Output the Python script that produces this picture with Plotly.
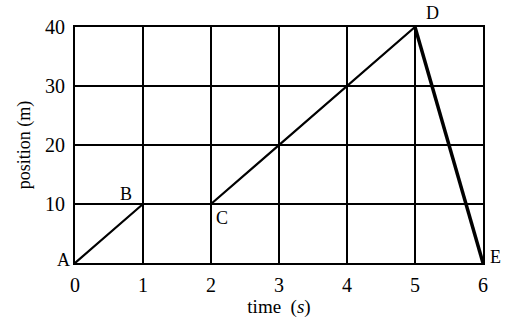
import plotly.graph_objects as go

# Data
time_s = [0, 1, 2, 5, 6]
position_m = [0, 10, 10, 40, 0]
point_labels = ["A", "B", "C", "D", "E"]
x_ticks = [0, 1, 2, 3, 4, 5, 6]
y_ticks = [0, 10, 20, 30, 40]
y_tick_text = ["", "10", "20", "30", "40"]

FONT = "Liberation Serif, Times New Roman, serif"

fig = go.Figure()
# A -> B -> C -> D
fig.add_trace(go.Scatter(x=time_s[:4], y=position_m[:4], mode="lines",
                         line=dict(color="black", width=2.2), hoverinfo="skip"))
# D -> E (steeper, thicker)
fig.add_trace(go.Scatter(x=time_s[3:], y=position_m[3:], mode="lines",
                         line=dict(color="black", width=3.5), hoverinfo="skip"))

# label offsets (style, pixels)
offsets = {"A": (-12, 3), "B": (-17, 10), "C": (11, -14), "D": (17, 14), "E": (12, 6)}
for lab, xv, yv in zip(point_labels, time_s, position_m):
    dx, dy = offsets[lab]
    fig.add_annotation(x=xv, y=yv, text=lab, showarrow=False, xshift=dx, yshift=dy,
                       font=dict(family=FONT, size=18, color="black"))

fig.update_layout(
    width=519, height=325,
    margin=dict(l=75, r=36, t=27, b=62),
    paper_bgcolor="white", plot_bgcolor="white",
    showlegend=False,
    font=dict(family=FONT, size=20, color="black"),
)
fig.update_xaxes(range=[0, 6], tickvals=x_ticks, showgrid=True, gridcolor="black", gridwidth=2,
                 showline=True, linecolor="black", linewidth=2, mirror=True, zeroline=False,
                 ticks="", ticklabelstandoff=3,
                 title=dict(text="time  (<i>s</i>)", font=dict(family=FONT, size=19), standoff=5))
fig.update_yaxes(range=[0, 40], tickvals=y_ticks, ticktext=y_tick_text, showgrid=True,
                 gridcolor="black", gridwidth=2,
                 showline=True, linecolor="black", linewidth=2, mirror=True, zeroline=False,
                 ticks="", ticklabelstandoff=4,
                 title=dict(text="position (m)", font=dict(family=FONT, size=18), standoff=10))

fig.write_html("out.html")
